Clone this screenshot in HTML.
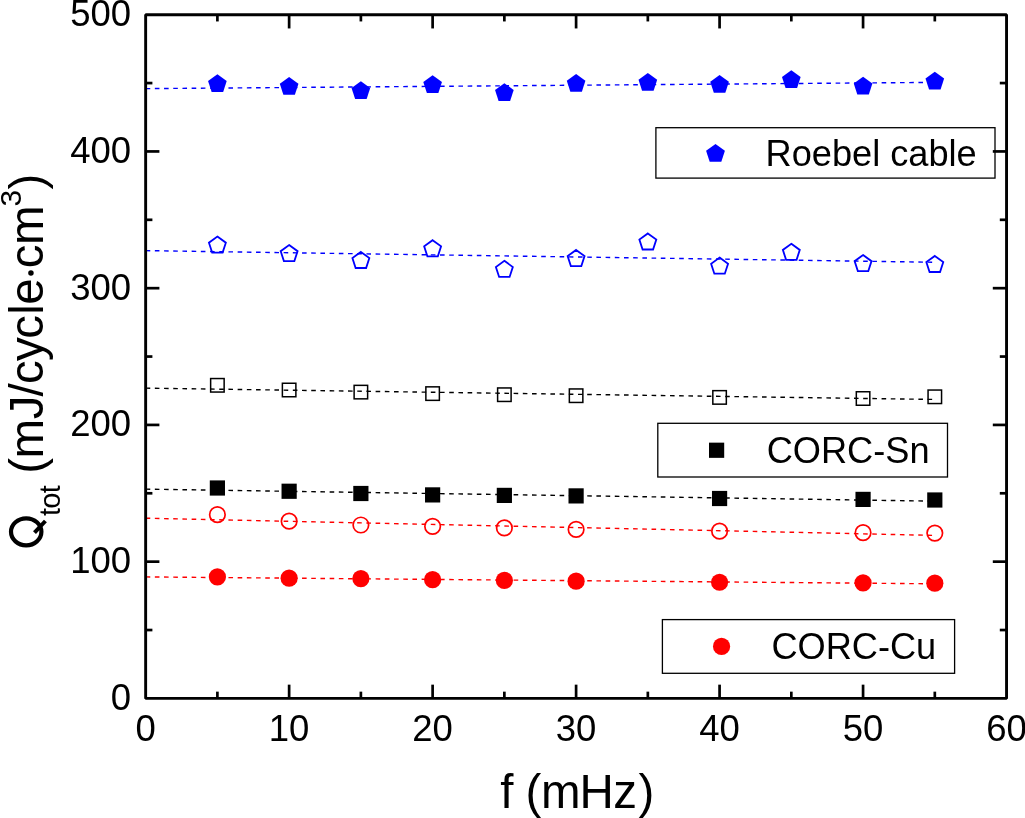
<!DOCTYPE html>
<html><head><meta charset="utf-8"><style>
html,body{margin:0;padding:0;background:#fff;}
svg{display:block;will-change:transform;}
.t{font-family:"Liberation Sans",sans-serif;fill:#000;}
</style></head><body>
<svg width="1025" height="818" viewBox="0 0 1025 818">
<line x1="145.65" y1="88.63" x2="934.81" y2="82.39" stroke="#0000ff" stroke-width="1.4" stroke-dasharray="4.6 4.6"/>
<line x1="145.65" y1="250.62" x2="934.81" y2="262.26" stroke="#0000ff" stroke-width="1.4" stroke-dasharray="4.6 4.6"/>
<line x1="145.65" y1="388.13" x2="934.81" y2="399.46" stroke="#000000" stroke-width="1.4" stroke-dasharray="4.6 4.6"/>
<line x1="145.65" y1="489.12" x2="934.81" y2="501.17" stroke="#000000" stroke-width="1.4" stroke-dasharray="4.6 4.6"/>
<line x1="145.65" y1="518.18" x2="934.81" y2="535.39" stroke="#ff0000" stroke-width="1.4" stroke-dasharray="4.6 4.6"/>
<line x1="145.65" y1="576.91" x2="934.81" y2="583.80" stroke="#ff0000" stroke-width="1.4" stroke-dasharray="4.6 4.6"/>
<polygon points="217.39,74.30 226.71,81.07 223.15,92.03 211.63,92.03 208.07,81.07" fill="#0000ff"/>
<polygon points="289.13,76.90 298.45,83.67 294.89,94.63 283.37,94.63 279.81,83.67" fill="#0000ff"/>
<polygon points="360.88,81.20 370.20,87.97 366.64,98.93 355.11,98.93 351.55,87.97" fill="#0000ff"/>
<polygon points="432.62,75.25 441.94,82.02 438.38,92.98 426.86,92.98 423.30,82.02" fill="#0000ff"/>
<polygon points="504.36,83.20 513.68,89.97 510.12,100.93 498.60,100.93 495.04,89.97" fill="#0000ff"/>
<polygon points="576.10,74.00 585.42,80.77 581.86,91.73 570.34,91.73 566.78,80.77" fill="#0000ff"/>
<polygon points="647.84,73.05 657.16,79.82 653.60,90.78 642.08,90.78 638.52,79.82" fill="#0000ff"/>
<polygon points="719.58,75.05 728.90,81.82 725.34,92.78 713.82,92.78 710.26,81.82" fill="#0000ff"/>
<polygon points="791.32,70.25 800.65,77.02 797.09,87.98 785.56,87.98 782.00,77.02" fill="#0000ff"/>
<polygon points="863.07,76.75 872.39,83.52 868.83,94.48 857.31,94.48 853.75,83.52" fill="#0000ff"/>
<polygon points="934.81,71.65 944.13,78.42 940.57,89.38 929.05,89.38 925.49,78.42" fill="#0000ff"/>
<polygon points="217.39,236.55 225.86,242.70 222.62,252.65 212.16,252.65 208.93,242.70" fill="none" stroke="#0000ff" stroke-width="1.8" stroke-linejoin="miter"/>
<polygon points="289.13,245.00 297.60,251.15 294.36,261.10 283.90,261.10 280.67,251.15" fill="none" stroke="#0000ff" stroke-width="1.8" stroke-linejoin="miter"/>
<polygon points="360.88,251.90 369.34,258.05 366.11,268.00 355.64,268.00 352.41,258.05" fill="none" stroke="#0000ff" stroke-width="1.8" stroke-linejoin="miter"/>
<polygon points="432.62,240.20 441.08,246.35 437.85,256.30 427.39,256.30 424.15,246.35" fill="none" stroke="#0000ff" stroke-width="1.8" stroke-linejoin="miter"/>
<polygon points="504.36,260.85 512.82,267.00 509.59,276.95 499.13,276.95 495.89,267.00" fill="none" stroke="#0000ff" stroke-width="1.8" stroke-linejoin="miter"/>
<polygon points="576.10,249.95 584.56,256.10 581.33,266.05 570.87,266.05 567.64,256.10" fill="none" stroke="#0000ff" stroke-width="1.8" stroke-linejoin="miter"/>
<polygon points="647.84,233.40 656.31,239.55 653.07,249.50 642.61,249.50 639.38,239.55" fill="none" stroke="#0000ff" stroke-width="1.8" stroke-linejoin="miter"/>
<polygon points="719.58,257.60 728.05,263.75 724.81,273.70 714.35,273.70 711.12,263.75" fill="none" stroke="#0000ff" stroke-width="1.8" stroke-linejoin="miter"/>
<polygon points="791.32,243.75 799.79,249.90 796.56,259.85 786.09,259.85 782.86,249.90" fill="none" stroke="#0000ff" stroke-width="1.8" stroke-linejoin="miter"/>
<polygon points="863.07,255.00 871.53,261.15 868.30,271.10 857.84,271.10 854.60,261.15" fill="none" stroke="#0000ff" stroke-width="1.8" stroke-linejoin="miter"/>
<polygon points="934.81,255.90 943.27,262.05 940.04,272.00 929.58,272.00 926.34,262.05" fill="none" stroke="#0000ff" stroke-width="1.8" stroke-linejoin="miter"/>
<rect x="210.64" y="378.55" width="13.5" height="13.5" fill="none" stroke="#000000" stroke-width="1.5"/>
<rect x="282.38" y="383.25" width="13.5" height="13.5" fill="none" stroke="#000000" stroke-width="1.5"/>
<rect x="354.12" y="385.35" width="13.5" height="13.5" fill="none" stroke="#000000" stroke-width="1.5"/>
<rect x="425.87" y="386.85" width="13.5" height="13.5" fill="none" stroke="#000000" stroke-width="1.5"/>
<rect x="497.61" y="387.95" width="13.5" height="13.5" fill="none" stroke="#000000" stroke-width="1.5"/>
<rect x="569.35" y="388.95" width="13.5" height="13.5" fill="none" stroke="#000000" stroke-width="1.5"/>
<rect x="712.83" y="390.65" width="13.5" height="13.5" fill="none" stroke="#000000" stroke-width="1.5"/>
<rect x="856.32" y="391.75" width="13.5" height="13.5" fill="none" stroke="#000000" stroke-width="1.5"/>
<rect x="928.06" y="390.05" width="13.5" height="13.5" fill="none" stroke="#000000" stroke-width="1.5"/>
<rect x="209.79" y="480.40" width="15.2" height="15.2" fill="#000000"/>
<rect x="281.53" y="483.65" width="15.2" height="15.2" fill="#000000"/>
<rect x="353.27" y="485.90" width="15.2" height="15.2" fill="#000000"/>
<rect x="425.02" y="487.30" width="15.2" height="15.2" fill="#000000"/>
<rect x="496.76" y="487.80" width="15.2" height="15.2" fill="#000000"/>
<rect x="568.50" y="488.30" width="15.2" height="15.2" fill="#000000"/>
<rect x="711.98" y="490.90" width="15.2" height="15.2" fill="#000000"/>
<rect x="855.47" y="491.80" width="15.2" height="15.2" fill="#000000"/>
<rect x="927.21" y="492.40" width="15.2" height="15.2" fill="#000000"/>
<circle cx="217.39" cy="514.65" r="7.75" fill="none" stroke="#ff0000" stroke-width="1.7"/>
<circle cx="289.13" cy="521.20" r="7.75" fill="none" stroke="#ff0000" stroke-width="1.7"/>
<circle cx="360.88" cy="525.00" r="7.75" fill="none" stroke="#ff0000" stroke-width="1.7"/>
<circle cx="432.62" cy="526.40" r="7.75" fill="none" stroke="#ff0000" stroke-width="1.7"/>
<circle cx="504.36" cy="527.90" r="7.75" fill="none" stroke="#ff0000" stroke-width="1.7"/>
<circle cx="576.10" cy="529.40" r="7.75" fill="none" stroke="#ff0000" stroke-width="1.7"/>
<circle cx="719.58" cy="531.20" r="7.75" fill="none" stroke="#ff0000" stroke-width="1.7"/>
<circle cx="863.07" cy="532.65" r="7.75" fill="none" stroke="#ff0000" stroke-width="1.7"/>
<circle cx="934.81" cy="533.10" r="7.75" fill="none" stroke="#ff0000" stroke-width="1.7"/>
<circle cx="217.39" cy="576.90" r="8.6" fill="#ff0000"/>
<circle cx="289.13" cy="578.15" r="8.6" fill="#ff0000"/>
<circle cx="360.88" cy="578.60" r="8.6" fill="#ff0000"/>
<circle cx="432.62" cy="579.70" r="8.6" fill="#ff0000"/>
<circle cx="504.36" cy="580.40" r="8.6" fill="#ff0000"/>
<circle cx="576.10" cy="581.15" r="8.6" fill="#ff0000"/>
<circle cx="719.58" cy="582.25" r="8.6" fill="#ff0000"/>
<circle cx="863.07" cy="582.80" r="8.6" fill="#ff0000"/>
<circle cx="934.81" cy="583.20" r="8.6" fill="#ff0000"/>
<rect x="145.65" y="14.70" width="860.90" height="683.70" fill="none" stroke="#000" stroke-width="2.9" stroke-linejoin="bevel"/>
<line x1="217.39" y1="698.40" x2="217.39" y2="691.65" stroke="#000" stroke-width="2.7"/>
<line x1="217.39" y1="14.70" x2="217.39" y2="21.45" stroke="#000" stroke-width="2.7"/>
<line x1="289.13" y1="698.40" x2="289.13" y2="684.65" stroke="#000" stroke-width="2.7"/>
<line x1="289.13" y1="14.70" x2="289.13" y2="28.45" stroke="#000" stroke-width="2.7"/>
<line x1="360.88" y1="698.40" x2="360.88" y2="691.65" stroke="#000" stroke-width="2.7"/>
<line x1="360.88" y1="14.70" x2="360.88" y2="21.45" stroke="#000" stroke-width="2.7"/>
<line x1="432.62" y1="698.40" x2="432.62" y2="684.65" stroke="#000" stroke-width="2.7"/>
<line x1="432.62" y1="14.70" x2="432.62" y2="28.45" stroke="#000" stroke-width="2.7"/>
<line x1="504.36" y1="698.40" x2="504.36" y2="691.65" stroke="#000" stroke-width="2.7"/>
<line x1="504.36" y1="14.70" x2="504.36" y2="21.45" stroke="#000" stroke-width="2.7"/>
<line x1="576.10" y1="698.40" x2="576.10" y2="684.65" stroke="#000" stroke-width="2.7"/>
<line x1="576.10" y1="14.70" x2="576.10" y2="28.45" stroke="#000" stroke-width="2.7"/>
<line x1="647.84" y1="698.40" x2="647.84" y2="691.65" stroke="#000" stroke-width="2.7"/>
<line x1="647.84" y1="14.70" x2="647.84" y2="21.45" stroke="#000" stroke-width="2.7"/>
<line x1="719.58" y1="698.40" x2="719.58" y2="684.65" stroke="#000" stroke-width="2.7"/>
<line x1="719.58" y1="14.70" x2="719.58" y2="28.45" stroke="#000" stroke-width="2.7"/>
<line x1="791.32" y1="698.40" x2="791.32" y2="691.65" stroke="#000" stroke-width="2.7"/>
<line x1="791.32" y1="14.70" x2="791.32" y2="21.45" stroke="#000" stroke-width="2.7"/>
<line x1="863.07" y1="698.40" x2="863.07" y2="684.65" stroke="#000" stroke-width="2.7"/>
<line x1="863.07" y1="14.70" x2="863.07" y2="28.45" stroke="#000" stroke-width="2.7"/>
<line x1="934.81" y1="698.40" x2="934.81" y2="691.65" stroke="#000" stroke-width="2.7"/>
<line x1="934.81" y1="14.70" x2="934.81" y2="21.45" stroke="#000" stroke-width="2.7"/>
<line x1="145.65" y1="630.03" x2="152.40" y2="630.03" stroke="#000" stroke-width="2.7"/>
<line x1="1006.55" y1="630.03" x2="999.80" y2="630.03" stroke="#000" stroke-width="2.7"/>
<line x1="145.65" y1="561.66" x2="159.40" y2="561.66" stroke="#000" stroke-width="2.7"/>
<line x1="1006.55" y1="561.66" x2="992.80" y2="561.66" stroke="#000" stroke-width="2.7"/>
<line x1="145.65" y1="493.29" x2="152.40" y2="493.29" stroke="#000" stroke-width="2.7"/>
<line x1="1006.55" y1="493.29" x2="999.80" y2="493.29" stroke="#000" stroke-width="2.7"/>
<line x1="145.65" y1="424.92" x2="159.40" y2="424.92" stroke="#000" stroke-width="2.7"/>
<line x1="1006.55" y1="424.92" x2="992.80" y2="424.92" stroke="#000" stroke-width="2.7"/>
<line x1="145.65" y1="356.55" x2="152.40" y2="356.55" stroke="#000" stroke-width="2.7"/>
<line x1="1006.55" y1="356.55" x2="999.80" y2="356.55" stroke="#000" stroke-width="2.7"/>
<line x1="145.65" y1="288.18" x2="159.40" y2="288.18" stroke="#000" stroke-width="2.7"/>
<line x1="1006.55" y1="288.18" x2="992.80" y2="288.18" stroke="#000" stroke-width="2.7"/>
<line x1="145.65" y1="219.81" x2="152.40" y2="219.81" stroke="#000" stroke-width="2.7"/>
<line x1="1006.55" y1="219.81" x2="999.80" y2="219.81" stroke="#000" stroke-width="2.7"/>
<line x1="145.65" y1="151.44" x2="159.40" y2="151.44" stroke="#000" stroke-width="2.7"/>
<line x1="1006.55" y1="151.44" x2="992.80" y2="151.44" stroke="#000" stroke-width="2.7"/>
<line x1="145.65" y1="83.07" x2="152.40" y2="83.07" stroke="#000" stroke-width="2.7"/>
<line x1="1006.55" y1="83.07" x2="999.80" y2="83.07" stroke="#000" stroke-width="2.7"/>
<text x="145.65" y="741.1" text-anchor="middle" class="t" font-size="36.5">0</text>
<text x="289.13" y="741.1" text-anchor="middle" class="t" font-size="36.5">10</text>
<text x="432.62" y="741.1" text-anchor="middle" class="t" font-size="36.5">20</text>
<text x="576.10" y="741.1" text-anchor="middle" class="t" font-size="36.5">30</text>
<text x="719.58" y="741.1" text-anchor="middle" class="t" font-size="36.5">40</text>
<text x="863.07" y="741.1" text-anchor="middle" class="t" font-size="36.5">50</text>
<text x="1006.55" y="741.1" text-anchor="middle" class="t" font-size="36.5">60</text>
<text x="131.1" y="709.80" text-anchor="end" class="t" font-size="36.5">0</text>
<text x="131.1" y="573.06" text-anchor="end" class="t" font-size="36.5">100</text>
<text x="131.1" y="436.32" text-anchor="end" class="t" font-size="36.5">200</text>
<text x="131.1" y="299.58" text-anchor="end" class="t" font-size="36.5">300</text>
<text x="131.1" y="162.84" text-anchor="end" class="t" font-size="36.5">400</text>
<text x="131.1" y="26.10" text-anchor="end" class="t" font-size="36.5">500</text>
<rect x="655.9" y="127.7" width="339.10" height="50.40" fill="none" stroke="#000" stroke-width="1.3"/>
<polygon points="715.50,143.90 724.92,150.74 721.32,161.81 709.68,161.81 706.08,150.74" fill="#0000ff"/>
<text x="765.5" y="165.5" class="t" font-size="36.2">Roebel cable</text>
<rect x="657.8" y="423.3" width="289.70" height="53.70" fill="none" stroke="#000" stroke-width="1.3"/>
<rect x="709.00" y="442.65" width="15.2" height="15.2" fill="#000"/>
<text x="766.7" y="463.1" class="t" font-size="36.2">CORC-Sn</text>
<rect x="662.4" y="619.6" width="292.20" height="53.70" fill="none" stroke="#000" stroke-width="1.3"/>
<circle cx="721.55" cy="646.4" r="8.6" fill="#ff0000"/>
<text x="771.4" y="658.6" class="t" font-size="36.2">CORC-Cu</text>
<text x="500.15 525.60 540.90 579.55 613.35 638.60" y="808.3" class="t" font-size="47.5">f(mHz)</text>
<text transform="rotate(-90)" x="-473.65 -458.50 -419.35 -396.45 -384.10 -361.00 -338.65 -314.65 -304.85 -268.20 -245.05 -189.55" y="43.2" class="t" font-size="47.5">(mJ/cyclecm)</text>
<text transform="rotate(-90)" x="-516.10 -508.85 -493.15" y="59.5" class="t" font-size="29">tot</text>
<text transform="rotate(-90)" x="-206.40" y="20.6" class="t" font-size="30">3</text>
<circle cx="30.95" cy="272.95" r="2.75" fill="#000"/>
<ellipse cx="26.2" cy="531.85" rx="15.2" ry="13.55" fill="none" stroke="#000" stroke-width="4.2"/>
<line x1="34.5" y1="532.6" x2="45.4" y2="521" stroke="#000" stroke-width="4"/>
</svg>
</body></html>
